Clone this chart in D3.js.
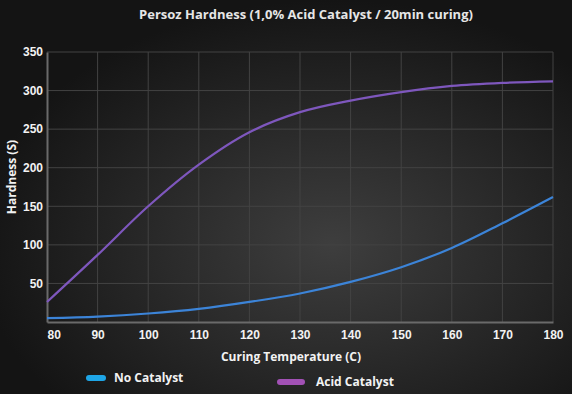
<!DOCTYPE html>
<html>
<head>
<meta charset="utf-8">
<script src="https://cdn.jsdelivr.net/npm/d3@7"></script>
<style>
  body { margin: 0; background: #141414; }
  svg { display: block; font-family: "Open Sans", "DejaVu Sans", sans-serif; }
</style>
</head>
<body>
<script>
// chart values
var temps = [80, 90, 100, 110, 120, 130, 140, 150, 160, 170, 180];
var noCatalyst = [5, 7, 11, 17, 26, 37, 52, 71, 96, 128, 162];
var acidCatalyst = [26, 87, 150, 204, 246, 272, 287, 298, 306, 310, 312];
var yTicks = [50, 100, 150, 200, 250, 300, 350];
var seriesNames = ["No Catalyst", "Acid Catalyst"];

var width = 572, height = 394;
var margin = {top: 52, right: 19, bottom: 72, left: 47};

var svg = d3.select('body').append('svg')
    .attr('width', width)
    .attr('height', height);

var defs = svg.append('defs');
var bg = defs.append('radialGradient')
    .attr('id', 'bg')
    .attr('cx', '0.58').attr('cy', '0.62').attr('r', '0.62');
bg.append('stop').attr('offset', '0%').attr('stop-color', '#3e3e3e');
bg.append('stop').attr('offset', '100%').attr('stop-color', '#141414');

svg.append('rect')
    .attr('width', width).attr('height', height)
    .attr('fill', 'url(#bg)');

var x = d3.scaleLinear()
    .domain([80, 180])
    .range([margin.left, width - margin.right]);

var y = d3.scaleLinear()
    .domain([0, 350])
    .range([height - margin.bottom, margin.top]);

// grid
var grid = svg.append('g').attr('class', 'grid');
grid.selectAll('line.v')
    .data(temps.slice(1))
    .enter().append('line')
    .attr('x1', function(d){ return x(d); })
    .attr('x2', function(d){ return x(d); })
    .attr('y1', y(0)).attr('y2', y(350))
    .attr('stroke', '#434343').attr('stroke-width', 1);
grid.selectAll('line.h')
    .data(yTicks)
    .enter().append('line')
    .attr('x1', x(80)).attr('x2', x(180))
    .attr('y1', function(d){ return y(d); })
    .attr('y2', function(d){ return y(d); })
    .attr('stroke', '#434343').attr('stroke-width', 1);

// axes
var xAxis = d3.axisBottom(x).tickValues(temps).tickSize(0).tickPadding(8);
var yAxis = d3.axisLeft(y).tickValues(yTicks).tickSize(0).tickPadding(4);

var gx = svg.append('g')
    .attr('transform', 'translate(0,' + y(0) + ')')
    .call(xAxis);
var gy = svg.append('g')
    .attr('transform', 'translate(' + x(80) + ',0)')
    .call(yAxis);

[gx, gy].forEach(function(g){
    g.select('.domain').attr('stroke', '#6a6a6a').attr('stroke-width', 2);
    g.selectAll('text')
        .attr('fill', '#f2f2f2')
        .style('font-size', '12px')
        .style('font-weight', 'bold');
});
gx.selectAll('.tick text')
    .filter(function(d){ return d === 80; })
    .attr('text-anchor', 'start');

// lines
var line = d3.line()
    .x(function(d, i){ return x(temps[i]); })
    .y(function(d){ return y(d); })
    .curve(d3.curveCatmullRom.alpha(0.5));

svg.append('path')
    .attr('d', line(noCatalyst))
    .attr('fill', 'none')
    .attr('stroke', '#3c84d8')
    .attr('stroke-width', 2.2);

svg.append('path')
    .attr('d', line(acidCatalyst))
    .attr('fill', 'none')
    .attr('stroke', '#7e57bd')
    .attr('stroke-width', 2.2);

// titles
svg.append('text')
    .attr('x', 306).attr('y', 19)
    .attr('text-anchor', 'middle')
    .attr('fill', '#e6e6e6')
    .style('font-size', '13px').style('font-weight', 'bold')
    .text('Persoz Hardness (1,0% Acid Catalyst / 20min curing)');

svg.append('text')
    .attr('x', 291).attr('y', 361)
    .attr('text-anchor', 'middle')
    .attr('fill', '#f2f2f2')
    .style('font-size', '12px').style('font-weight', 'bold')
    .text('Curing Temperature (C)');

svg.append('text')
    .attr('transform', 'translate(16,177) rotate(-90)')
    .attr('text-anchor', 'middle')
    .attr('fill', '#f2f2f2')
    .style('font-size', '12px').style('font-weight', 'bold')
    .text('Hardness (S)');

// legend
var legendColors = ['#1ea5e6', '#a251b5'];
var legendPos = [{sx: 86, sw: 20, tx: 114, y: 378}, {sx: 277, sw: 28, tx: 316, y: 382}];
var legend = svg.selectAll('g.legend')
    .data(seriesNames)
    .enter().append('g')
    .attr('class', 'legend');
legend.append('rect')
    .attr('x', function(d, i){ return legendPos[i].sx; })
    .attr('y', function(d, i){ return legendPos[i].y - 3; })
    .attr('width', function(d, i){ return legendPos[i].sw; })
    .attr('height', 6)
    .attr('rx', 3)
    .attr('fill', function(d, i){ return legendColors[i]; });
legend.append('text')
    .attr('x', function(d, i){ return legendPos[i].tx; })
    .attr('y', function(d, i){ return legendPos[i].y + 4; })
    .attr('fill', '#f2f2f2')
    .style('font-size', '12px').style('font-weight', 'bold')
    .text(function(d){ return d; });
</script>
</body>
</html>
